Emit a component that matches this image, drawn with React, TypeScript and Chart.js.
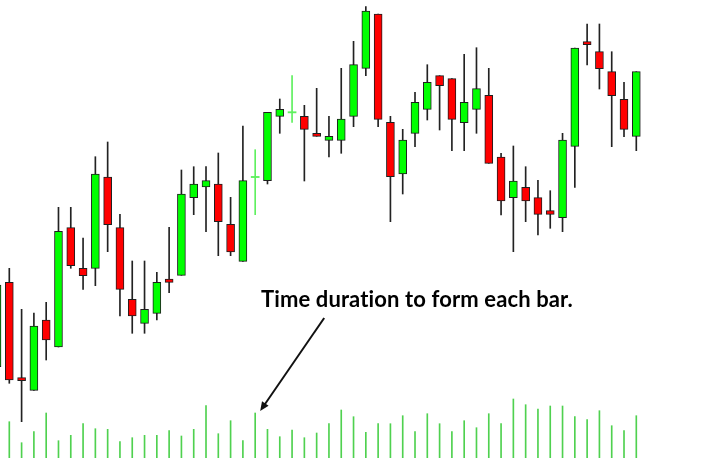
import React, { useEffect, useRef } from "react";
import { Chart, registerables } from "chart.js";

Chart.register(...registerables);

// Price units: arbitrary chart units (higher = up)
const opens = [91.3, 175.7, 80.3, 67.7, 138, 111, 230.3, 189.7, 189.7, 281, 230.3, 158.7, 134.7, 144.7, 179, 182.7, 260.3, 271, 274, 233.7, 196.7, 281, 277.3, 341.7, 345.7, 341.7, 324.7, 317.7, 317.7, 341.7, 389.7, 444, 335.7, 284, 324.7, 348.7, 382.3, 379.3, 335.3, 348.7, 362.7, 301, 260.3, 270.7, 260.3, 247.3, 240.3, 311.7, 416.3, 406.3, 386.3, 358.7, 321.7];
const highs = [178, 189.7, 148.7, 145, 155.7, 250.7, 250.7, 220, 301.3, 316, 243.7, 197, 197, 185.7, 230.7, 288, 291.3, 291.3, 305, 260.7, 332, 308.3, 345.7, 359, 382.5, 352.7, 369.7, 341.7, 389.7, 416.7, 451.3, 444, 341.7, 328.7, 365.7, 393.3, 382.3, 379.3, 403.7, 410.3, 389.7, 304.7, 312, 291.3, 277.7, 267.3, 324.7, 410, 434, 434, 406.3, 375.7, 386.3];
const lows = [86, 74.7, 36.3, 67.7, 98, 111, 189.7, 168.7, 172.3, 206.3, 142, 124.7, 124.7, 138, 165.3, 182.7, 243.3, 226.3, 202.3, 202.3, 196.7, 243.3, 274, 324.7, 335.5, 277, 321.7, 301, 304.7, 331.3, 382.3, 331.3, 236.3, 264, 311.3, 338, 328, 307.3, 307.3, 324.7, 294.7, 243, 206.3, 236.3, 223, 229.7, 226.3, 270.7, 393, 369, 311.3, 321.3, 307.3];
const closes = [173, 78, 77.3, 132, 118, 226.7, 192.3, 182.3, 284, 233.3, 168.7, 142, 148.7, 175.7, 175.7, 264, 274, 277.3, 236.3, 206, 277.3, 281, 345.7, 348.7, 345.7, 328.7, 321.7, 321.7, 339, 393.3, 447, 338.7, 281.3, 318, 355.7, 375.7, 372.3, 338.7, 355.7, 369.3, 294.7, 257, 277, 257, 243.7, 243.7, 318, 410, 413.3, 389.3, 362.3, 328.7, 386.3];
// Tick volume (time to form each bar)
const volumes = [30, 36.3, 15.3, 26.3, 45, 17.3, 22.7, 34.3, 29.3, 28.7, 16.3, 20.3, 22.7, 22.7, 27.3, 22, 28.7, 52.3, 24.3, 37.3, 17.3, 45, 28.7, 21.3, 28, 20.3, 25, 34.3, 48, 41.3, 25.7, 34.3, 34.3, 42.3, 26.3, 44.3, 34.3, 26.3, 37.3, 30.3, 44.3, 34.3, 59, 53.3, 49, 52, 52, 41.3, 38.3, 47.3, 32.3, 27.3, 42.3];

const annotationText = "Time duration to form each bar.";
const annotatedBar = 21;

const UP = "#00ff00";
const DOWN = "#ff0000";
const DOJI = "rgb(95,240,95)";
const WICK = "#222222";
const VOL = "#4fd14f";

export default function App() {
  const canvasRef = useRef<HTMLCanvasElement | null>(null);

  useEffect(() => {
    const canvas = canvasRef.current;
    if (!canvas) return;

    const idx = opens.map((_, i) => i);
    const isDoji = (i: number) => opens[i] === closes[i];

    const bodyData = idx.map((i) => {
      const o = opens[i];
      const c = closes[i];
      if (o === c) return { x: i, y: [o - 0.6, o + 0.6] };
      return { x: i, y: [Math.min(o, c), Math.max(o, c)] };
    });
    const bodyColors = idx.map((i) => (isDoji(i) ? DOJI : closes[i] > opens[i] ? UP : DOWN));
    const bodyBorderW = idx.map((i) => (isDoji(i) ? 0 : 1));
    const bodyThick = 8;

    const wickData = idx.map((i) => ({ x: i, y: [lows[i], highs[i]] }));
    const wickColors = idx.map((i) => (isDoji(i) ? DOJI : WICK));

    const volData = idx.map((i) => ({ x: i, y: volumes[i] }));

    const arrowPlugin = {
      id: "arrowNote",
      afterDatasetsDraw(chart: any) {
        const ctx = chart.ctx;
        const xs = chart.scales.x;
        const yv = chart.scales.yv;
        const tipX = xs.getPixelForValue(annotatedBar) + 5;
        const tipY = yv.getPixelForValue(volumes[annotatedBar]) - 2;
        const sx = tipX + 64;
        const sy = tipY - 93;
        const ang = Math.atan2(tipY - sy, tipX - sx);
        const hl = 9;
        const hw = 4;
        ctx.save();
        ctx.strokeStyle = "#111";
        ctx.fillStyle = "#111";
        ctx.lineWidth = 2;
        ctx.beginPath();
        ctx.moveTo(sx, sy);
        ctx.lineTo(tipX - Math.cos(ang) * (hl - 2), tipY - Math.sin(ang) * (hl - 2));
        ctx.stroke();
        ctx.beginPath();
        ctx.moveTo(tipX, tipY);
        ctx.lineTo(
          tipX - Math.cos(ang) * hl + Math.sin(ang) * hw,
          tipY - Math.sin(ang) * hl - Math.cos(ang) * hw
        );
        ctx.lineTo(
          tipX - Math.cos(ang) * hl - Math.sin(ang) * hw,
          tipY - Math.sin(ang) * hl + Math.cos(ang) * hw
        );
        ctx.closePath();
        ctx.fill();
        ctx.restore();
      },
    };

    const chart = new Chart(canvas, {
      type: "bar",
      data: {
        datasets: [
          {
            label: "body",
            data: bodyData as any,
            backgroundColor: bodyColors,
            borderColor: "#1e1e1e",
            borderWidth: bodyBorderW,
            borderSkipped: false,
            barThickness: bodyThick,
            grouped: false,
            order: 0,
            yAxisID: "y",
          } as any,
          {
            label: "wick",
            data: wickData as any,
            backgroundColor: wickColors,
            borderWidth: 0,
            barThickness: 1,
            grouped: false,
            order: 1,
            yAxisID: "y",
          } as any,
          {
            label: "volume",
            data: volData as any,
            backgroundColor: VOL,
            borderWidth: 0,
            barThickness: 1,
            grouped: false,
            order: 2,
            yAxisID: "yv",
          } as any,
        ],
      },
      options: {
        responsive: false,
        animation: false,
        layout: { padding: 0 },
        plugins: {
          legend: { display: false },
          tooltip: { enabled: false },
          title: { display: false },
        },
        scales: {
          x: {
            type: "linear",
            display: false,
            offset: false,
            min: 0.2432,
            max: 57.588,
          },
          y: { type: "linear", display: false, min: 0, max: 458 },
          yv: { type: "linear", display: false, min: 0, max: 458 },
        },
      } as any,
      plugins: [arrowPlugin],
    });

    return () => chart.destroy();
  }, []);

  return (
    <div
      style={{
        position: "absolute",
        left: 0,
        top: 0,
        width: 705,
        height: 458,
        background: "#ffffff",
        overflow: "hidden",
      }}
    >
      <canvas ref={canvasRef} width={705} height={458} style={{ display: "block" }} />
      <div
        style={{
          position: "absolute",
          left: 261,
          top: 288,
          fontFamily: "Lato, 'Open Sans', sans-serif",
          fontWeight: 700,
          fontSize: 22,
          lineHeight: "22px",
          letterSpacing: "0.12px",
          color: "#000",
          whiteSpace: "nowrap",
        }}
      >
        {annotationText}
      </div>
    </div>
  );
}
